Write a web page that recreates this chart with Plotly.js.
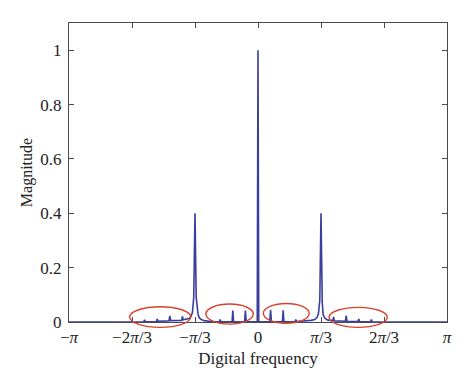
<!DOCTYPE html>
<html>
<head>
<meta charset="utf-8">
<script src="https://cdn.plot.ly/plotly-3.0.1.min.js"></script>
<style>html,body{margin:0;padding:0;background:#fff;}#chart{width:474px;height:386px;}</style>
</head>
<body>
<div id="chart"></div>
<script>
// Digital frequency in units of pi, magnitude
const freq = [
  -1.0, -0.70,
  -0.604, -0.600, -0.596,
  -0.537, -0.5333, -0.529,
  -0.471, -0.4667, -0.462,
  -0.404, -0.400, -0.396,
  -0.375, -0.365, -0.355, -0.347, -0.340, -0.3333, -0.327, -0.322, -0.317, -0.310, -0.300, -0.285, -0.270,
  -0.240, -0.204, -0.200, -0.196,
  -0.137, -0.1333, -0.129,
  -0.071, -0.0667, -0.062,
  -0.004, 0.000, 0.004,
  0.062, 0.0667, 0.071,
  0.129, 0.1333, 0.137,
  0.196, 0.200, 0.204,
  0.230, 0.260, 0.280, 0.300, 0.313, 0.320, 0.327, 0.3333, 0.340, 0.345, 0.355, 0.370,
  0.396, 0.400, 0.404,
  0.462, 0.4667, 0.471,
  0.529, 0.5333, 0.537,
  0.596, 0.600, 0.604,
  0.70, 1.0
];
const magnitude = [
  0.000, 0.000,
  0.001, 0.008, 0.001,
  0.002, 0.011, 0.003,
  0.004, 0.022, 0.005,
  0.006, 0.021, 0.008,
  0.010, 0.013, 0.020, 0.035, 0.090, 0.400, 0.090, 0.050, 0.027, 0.015, 0.009, 0.005, 0.003,
  0.001, 0.001, 0.009, 0.001,
  0.001, 0.042, 0.001,
  0.001, 0.042, 0.001,
  0.002, 1.000, 0.002,
  0.001, 0.044, 0.001,
  0.001, 0.043, 0.001,
  0.001, 0.009, 0.002,
  0.003, 0.004, 0.006, 0.009, 0.017, 0.032, 0.080, 0.400, 0.070, 0.026, 0.013, 0.007,
  0.005, 0.019, 0.004,
  0.003, 0.023, 0.003,
  0.002, 0.011, 0.002,
  0.001, 0.009, 0.001,
  0.000, 0.000
];
const xTickVals = [-1, -2/3, -1/3, 0, 1/3, 2/3, 1];
const xTickText = ['\u2212<i>\u03c0</i>', '\u22122<i>\u03c0</i>/3', '\u2212<i>\u03c0</i>/3', '0', '<i>\u03c0</i>/3', '2<i>\u03c0</i>/3', '<i>\u03c0</i>'];
const yTickVals = [0, 0.2, 0.4, 0.6, 0.8, 1];
const yTickText = ['0', '0.2', '0.4', '0.6', '0.8', '1'];
// highlighted regions (x in pi units, y in paper fraction)
const ellipseX0 = [-0.679, -0.276, 0.028, 0.376];
const ellipseX1 = [-0.356, -0.025, 0.271, 0.684];
const ellipseY0 = [-0.018, -0.007, -0.004, -0.018];
const ellipseY1 = [0.051, 0.060, 0.062, 0.049];

const shapes = ellipseX0.map((x0, i) => ({
  type: 'circle', xref: 'x', yref: 'paper',
  x0: x0, x1: ellipseX1[i], y0: ellipseY0[i], y1: ellipseY1[i],
  line: {color: '#d9412f', width: 1.4}
}));

const axisCommon = {
  showline: true, linecolor: '#4a4a4a', linewidth: 1.2, mirror: 'ticks',
  ticks: 'inside', ticklen: 5, tickcolor: '#4a4a4a', tickwidth: 1,
  showgrid: false, zeroline: false,
  tickfont: {family: 'Liberation Serif', size: 17, color: '#222'}
};

Plotly.newPlot('chart', [{
  x: freq, y: magnitude, type: 'scatter', mode: 'lines',
  line: {color: '#3a3f9e', width: 1.6}, hoverinfo: 'skip'
}], {
  width: 474, height: 386,
  margin: {l: 69, r: 27, t: 23, b: 64},
  paper_bgcolor: '#fff', plot_bgcolor: '#fff',
  font: {family: 'Liberation Serif', color: '#222'},
  showlegend: false,
  xaxis: Object.assign({}, axisCommon, {
    range: [-1, 1], tickmode: 'array', tickvals: xTickVals, ticktext: xTickText,
    ticklabelstandoff: -1,
    title: {text: 'Digital frequency', font: {family: 'Liberation Serif', size: 17, color: '#222'}, standoff: 6}
  }),
  yaxis: Object.assign({}, axisCommon, {
    range: [0, 1.1], tickmode: 'array', tickvals: yTickVals, ticktext: yTickText,
    ticklabelstandoff: 3,
    title: {text: 'Magnitude', font: {family: 'Liberation Serif', size: 16, color: '#222'}, standoff: 3}
  }),
  shapes: shapes
}, {staticPlot: true, displayModeBar: false});
</script>
</body>
</html>
